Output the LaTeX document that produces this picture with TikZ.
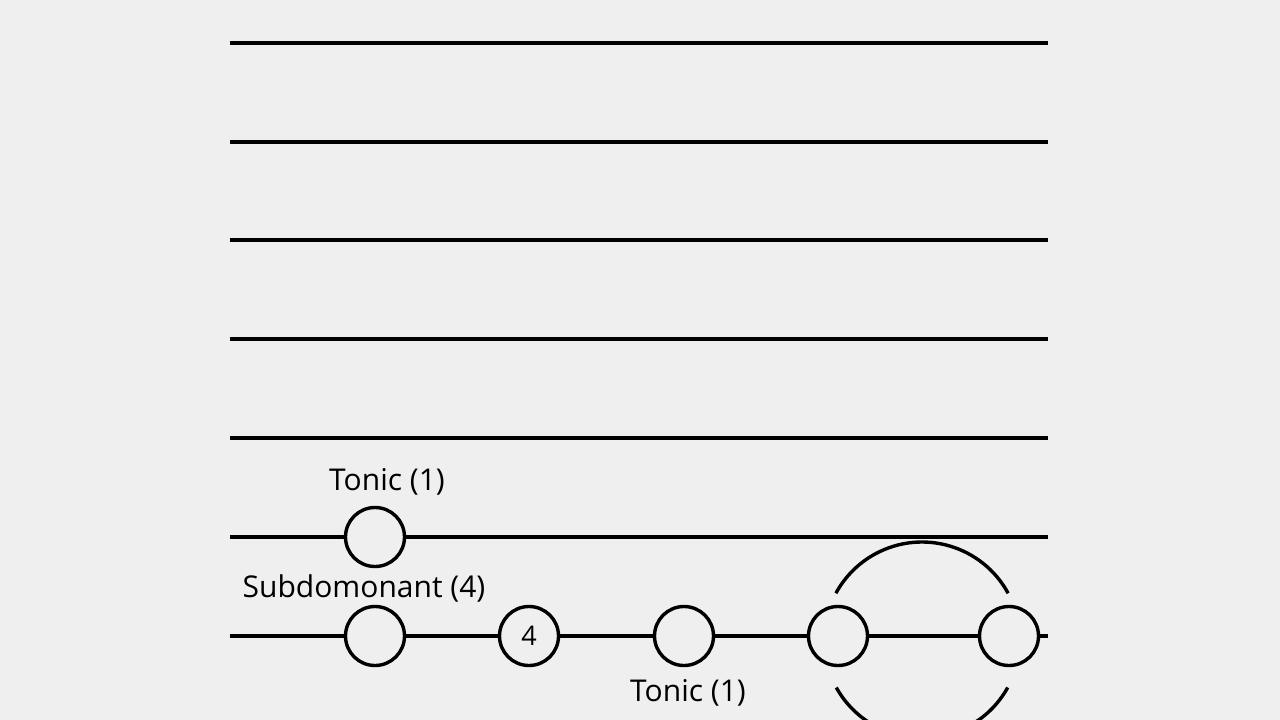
\documentclass[tikz,border=0pt]{standalone}
\usepackage{fontspec}
\setmainfont{Open Sans}
\definecolor{bg}{HTML}{EFEFEF}
\begin{document}
\begin{tikzpicture}[x=1pt,y=-1pt,
  staff/.style={line width=3.4pt,black},
  note/.style={circle,draw=black,line width=3.4pt,fill=bg,minimum size=59pt,inner sep=0pt,font=\fontsize{27}{30}\selectfont},
  lbl/.style={font=\fontsize{30}{34}\selectfont,inner sep=0pt}]
\fill[bg] (0,0) rectangle (1280,720);
\useasboundingbox (0,0) rectangle (1280,720);
\foreach \y/\n in {43/l1,142/l2,240/l3,339/l4,438/l5,537/l6,636/l7}{
  \coordinate (\n a) at (230,\y);
  \coordinate (\n b) at (1048,\y);
  \draw[staff] (\n a) -- (\n b);
}
\node[note] (t1) at (375,537) {};
\node[note] (s1) at (375,636) {};
\node[note] (s2) at (529,636) {4};
\node[note] (s3) at (684,636) {};
\node[note] (s4) at (838,636) {};
\node[note] (s5) at (1009,636) {};
\node[lbl] (lt1) at (387,482) {Tonic (1)};
\node[lbl] (ls1) at (364,588) {Subdomonant (4)};
\node[lbl] (lt2) at (688,693) {Tonic (1)};
\coordinate (bc) at (922,640);
\draw[staff] ([shift={(-28.5:98)}]bc) arc[start angle=-28.5,end angle=-151.5,radius=98];
\draw[staff] ([shift={(29:98)}]bc) arc[start angle=29,end angle=151,radius=98];
\end{tikzpicture}
\end{document}
